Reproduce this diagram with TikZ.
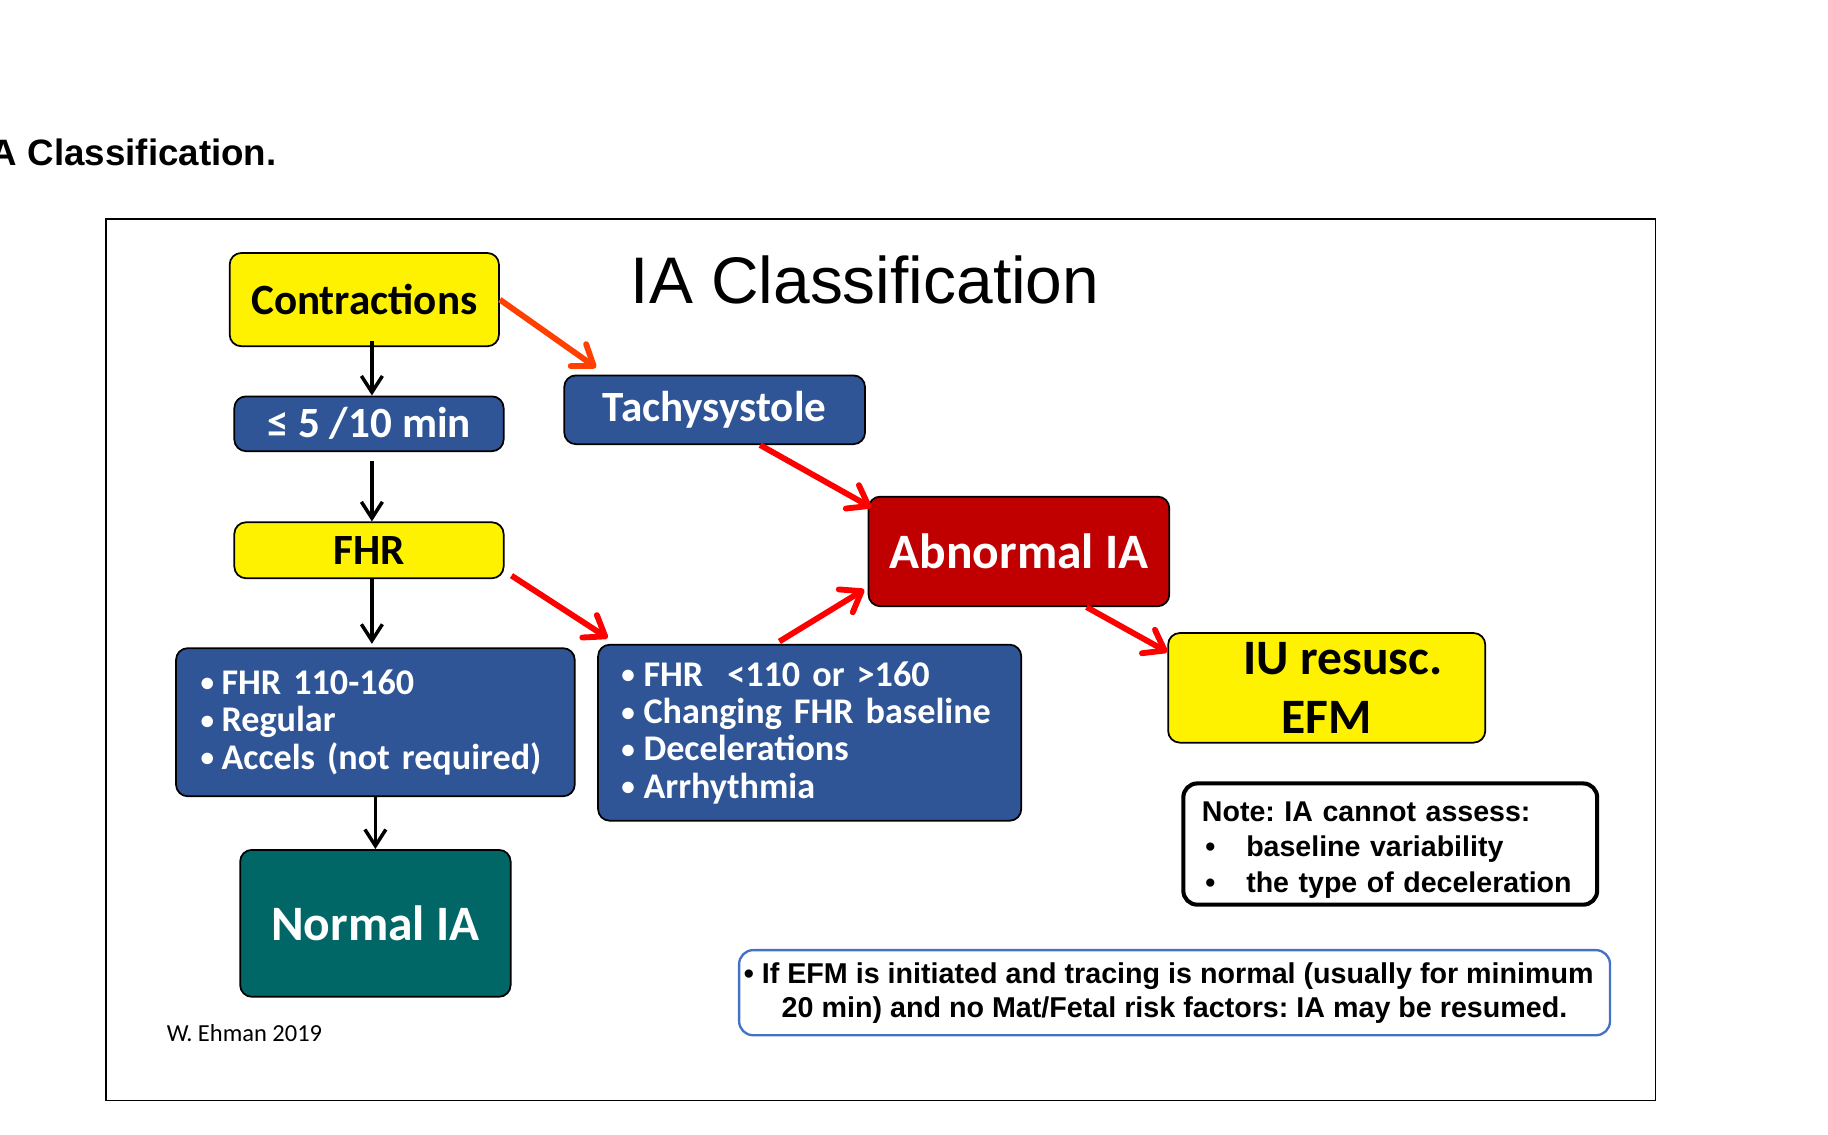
\documentclass[tikz,border=0pt]{standalone}
\usepackage{fontspec}
\setmainfont{Carlito}
\newfontfamily\arialf{Liberation Sans}
\usetikzlibrary{positioning, arrows.meta}
\definecolor{iablue}{RGB}{47,85,151}
\definecolor{iared}{RGB}{192,0,0}
\definecolor{iateal}{RGB}{0,102,102}
\definecolor{iaorange}{RGB}{255,64,0}
\definecolor{notebl}{RGB}{68,114,196}
\newcommand{\blt}[1]{\makebox[#1][l]{\raisebox{0.07em}{\scalebox{0.75}{\textbullet}}}}
\newcommand{\nblt}{\makebox[38pt][l]{\hspace{3pt}\textbullet}}
\frenchspacing

\begin{document}
\begin{tikzpicture}[x=1pt, y=-1pt,
  caja/.style={draw=black, line width=1.5pt, rounded corners=10pt, inner sep=0pt,
               align=center, font=\bfseries\fontsize{37}{42}\selectfont},
  amar/.style={caja, fill=yellow},
  azul/.style={caja, fill=iablue, text=white},
  lista/.style={azul, align=left, font=\bfseries\fontsize{31}{32}\selectfont},
  grande/.style={font=\bfseries\fontsize{42.5}{48}\selectfont, text=white},
  nota/.style={rounded corners=12pt, inner sep=0pt, font=\arialf\bfseries\fontsize{24.5}{30.5}\selectfont},
  fl/.style={-{Straight Barb[length=14pt,width=18pt]}, line width=3pt},
  flr/.style={-{Straight Barb[length=16pt,width=23pt,round]}, line width=5pt, red}]
\useasboundingbox (0,0) rectangle (1568,973);
\node[anchor=west, inner sep=0pt, font=\arialf\bfseries\fontsize{31.5}{36}\selectfont] (cap) at (-8,131) {A Classification.};
\draw[line width=1.5pt] (91,188) rectangle (1420,944);
\node[font=\arialf\fontsize{56.5}{62}\selectfont] (tit) at (742,240) {IA Classification};
% cajas
\node[amar, minimum width=231pt, minimum height=80pt] (contr) at (312.5,257) {Contractions};
\node[azul, minimum width=231pt, minimum height=47pt] (le5) at (316.5,363.5) {≤ 5 /10 min};
\node[amar, minimum width=231pt, minimum height=48pt] (fhr) at (316.5,472) {FHR};
\node[azul, minimum width=258pt, minimum height=59pt] (tachy) at (613,351.5) {Tachysystole};
\node[caja, grande, fill=iared, minimum width=258pt, minimum height=94pt] (abn) at (874,473) {Abnormal IA};
\node[amar, font=\bfseries\fontsize{42.5}{50}\selectfont, minimum width=272pt, minimum height=94pt] (iu) at (1138,590)
  {\hspace*{28pt}IU resusc.\\EFM};
\node[lista, minimum width=342pt, minimum height=127pt, text width=300pt] (nrml) at (322,619.5)
  {\blt{18pt}FHR 110-160\\\blt{18pt}Regular\\\blt{18pt}Accels (not required)};
\node[lista, minimum width=363pt, minimum height=151pt, text width=323pt] (abnl) at (694.5,628.5)
  {\blt{19pt}FHR\ \ <110 or >160\\\blt{19pt}Changing FHR baseline\\\blt{19pt}Decelerations\\\blt{19pt}Arrhythmia};
\node[caja, grande, fill=iateal, minimum width=232pt, minimum height=126pt] (nrmia) at (322,792) {Normal IA};
\node[nota, draw=black, line width=3.5pt, align=left, minimum width=355pt, minimum height=104pt, text width=323pt] (note) at (1192.5,724)
  {\rule{0pt}{27pt}Note: IA cannot assess:\\\nblt baseline variability\\\nblt the type of deceleration};
\node[nota, draw=notebl, line width=2pt, align=center, minimum width=747pt, minimum height=73pt,
      font=\arialf\bfseries\fontsize{24.6}{29}\selectfont] (efm) at (1007.5,851.5)
  {• If EFM is initiated and tracing is normal (usually for minimum\hspace*{10pt}\\20 min) and no Mat/Fetal risk factors: IA may be resumed.};
\node[anchor=west, inner sep=0pt, font=\fontsize{21}{24}\selectfont] (firma) at (143,886) {W. Ehman 2019};
% flechas
\draw[fl] ([xshift=6.5pt, yshift=5pt]contr.south) -- ([xshift=6.5pt]contr.south |- le5.north);
\draw[fl] ([xshift=2.5pt, yshift=-8pt]le5.south) -- ([xshift=2.5pt]le5.south |- fhr.north);
\draw[fl] ([xshift=2.5pt]fhr.south) -- ([xshift=2.5pt, yshift=3pt]fhr.south |- nrml.north);
\draw[fl] (nrml.south) -- (nrmia.north);
\draw[flr, iaorange] (contr.east) -- ([xshift=28pt, yshift=6pt]tachy.north west);
\draw[flr] ([xshift=39pt]tachy.south) -- ([xshift=3pt, yshift=-10pt]abn.north west);
\draw[flr] ([xshift=6pt, yshift=3pt]fhr.south east) -- ([xshift=9pt, yshift=5pt]abnl.north west);
\draw[flr] ([xshift=-26pt, yshift=2pt]abnl.north) -- ([xshift=-3pt, yshift=15pt]abn.south west);
\draw[flr] ([xshift=58pt]abn.south) -- ([yshift=-17pt]iu.north west);
\end{tikzpicture}
\end{document}
